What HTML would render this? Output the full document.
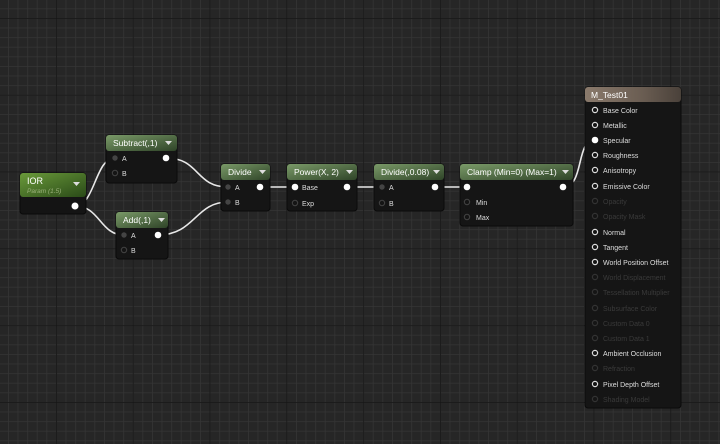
<!DOCTYPE html>
<html><head><meta charset="utf-8"><style>
html,body{margin:0;padding:0;background:#262626;}
svg{display:block;font-family:"Liberation Sans",sans-serif;}
</style></head><body>
<svg width="720" height="444" viewBox="0 0 720 444" xmlns="http://www.w3.org/2000/svg">
<defs>
<pattern id="minor" x="8" y="8.4" width="9.6" height="9.6" patternUnits="userSpaceOnUse">
<path d="M0 0H9.6M0 0V9.6" stroke="#353535" stroke-width="1.5" fill="none"/>
</pattern>
<pattern id="major" x="56" y="18" width="76.8" height="76.8" patternUnits="userSpaceOnUse">
<path d="M0 0H76.8M0 0V76.8" stroke="#151515" stroke-width="1.5" fill="none"/>
</pattern>
<linearGradient id="gh" x1="0" y1="0" x2="1" y2="1">
<stop offset="0" stop-color="#7a9a68"/><stop offset="1" stop-color="#2f4428"/></linearGradient>
<linearGradient id="gior" x1="0" y1="0" x2="1" y2="1">
<stop offset="0" stop-color="#6a9a3a"/><stop offset="1" stop-color="#2a4a18"/></linearGradient>
<linearGradient id="bh" x1="0" y1="0" x2="1" y2="0">
<stop offset="0" stop-color="#8a7a6c"/><stop offset="0.6" stop-color="#6a5d52"/><stop offset="1" stop-color="#4a413a"/></linearGradient>
</defs>
<rect width="720" height="444" fill="#262626"/>
<rect width="720" height="444" fill="url(#minor)"/>
<rect width="720" height="444" fill="url(#major)"/>

<g stroke="#e8e8e8" stroke-width="1.6" fill="none">
<path d="M75 206 C95 206 95 158 115 158"/>
<path d="M75 206 C100 206 100 235 124 235"/>
<path d="M166 158 C200 158 195 187 228 187"/>
<path d="M158 235 C195 235 195 202 228 202"/>
<path d="M260 187 H295"/>
<path d="M347 187 H382"/>
<path d="M435 187 H467"/>
<path d="M563 187 C585 187 575 140 595 140"/>
</g>

<g font-size="8" fill="#ddd">
<rect x="20" y="173" width="66" height="41" rx="3" fill="#141414" stroke="#0a0a0a"/>
<rect x="20" y="173" width="66" height="24" rx="3" fill="url(#gior)"/>
<text x="27" y="184" font-size="9" fill="#fff">IOR</text>
<text x="27" y="193" font-size="6.5" fill="#9ab07a" font-style="italic">Param (1.5)</text>
<path d="M73 182h7l-3.5 4z" fill="#ddd"/>
<circle cx="75" cy="206" r="3.5" fill="#fff"/>

<rect x="106" y="135" width="71" height="48" rx="3" fill="#151515" stroke="#0a0a0a"/>
<rect x="106" y="135" width="71" height="16" rx="3" fill="url(#gh)"/>
<text x="113" y="146" font-size="8.5" fill="#fff">Subtract(,1)</text>
<path d="M165 141h7l-3.5 4z" fill="#ddd"/>
<circle cx="115" cy="158" r="2.7" fill="#444"/><text x="122" y="161" font-size="7">A</text>
<circle cx="115" cy="173" r="2.7" fill="none" stroke="#444"/><text x="122" y="176" font-size="7">B</text>
<circle cx="166" cy="158" r="3.3" fill="#fff"/>

<rect x="116" y="212" width="52" height="47" rx="3" fill="#151515" stroke="#0a0a0a"/>
<rect x="116" y="212" width="52" height="16" rx="3" fill="url(#gh)"/>
<text x="123" y="223" font-size="8.5" fill="#fff">Add(,1)</text>
<path d="M158 218h7l-3.5 4z" fill="#ddd"/>
<circle cx="124" cy="235" r="2.7" fill="#444"/><text x="131" y="238" font-size="7">A</text>
<circle cx="124" cy="250" r="2.7" fill="none" stroke="#444"/><text x="131" y="253" font-size="7">B</text>
<circle cx="158" cy="235" r="3.3" fill="#fff"/>

<rect x="221" y="164" width="49" height="47" rx="3" fill="#151515" stroke="#0a0a0a"/>
<rect x="221" y="164" width="49" height="16" rx="3" fill="url(#gh)"/>
<text x="228" y="175" font-size="8.5" fill="#fff">Divide</text>
<path d="M259 170h7l-3.5 4z" fill="#ddd"/>
<circle cx="228" cy="187" r="2.7" fill="#444"/><text x="235" y="190" font-size="7">A</text>
<circle cx="228" cy="202" r="2.7" fill="#444"/><text x="235" y="205" font-size="7">B</text>
<circle cx="260" cy="187" r="3.3" fill="#fff"/>

<rect x="287" y="164" width="70" height="47" rx="3" fill="#151515" stroke="#0a0a0a"/>
<rect x="287" y="164" width="70" height="16" rx="3" fill="url(#gh)"/>
<text x="294" y="175" font-size="8.5" fill="#fff">Power(X, 2)</text>
<path d="M346 170h7l-3.5 4z" fill="#ddd"/>
<circle cx="295" cy="187" r="3.3" fill="#fff"/><text x="302" y="190" font-size="7">Base</text>
<circle cx="295" cy="203" r="2.7" fill="none" stroke="#444"/><text x="302" y="206" font-size="7">Exp</text>
<circle cx="347" cy="187" r="3.3" fill="#fff"/>

<rect x="374" y="164" width="70" height="47" rx="3" fill="#151515" stroke="#0a0a0a"/>
<rect x="374" y="164" width="70" height="16" rx="3" fill="url(#gh)"/>
<text x="381" y="175" font-size="8.5" fill="#fff">Divide(,0.08)</text>
<path d="M433 170h7l-3.5 4z" fill="#ddd"/>
<circle cx="382" cy="187" r="2.7" fill="#444"/><text x="389" y="190" font-size="7">A</text>
<circle cx="382" cy="203" r="2.7" fill="none" stroke="#444"/><text x="389" y="206" font-size="7">B</text>
<circle cx="435" cy="187" r="3.3" fill="#fff"/>

<rect x="460" y="164" width="113" height="62" rx="3" fill="#151515" stroke="#0a0a0a"/>
<rect x="460" y="164" width="113" height="16" rx="3" fill="url(#gh)"/>
<text x="467" y="175" font-size="8.5" fill="#fff">Clamp (Min=0) (Max=1)</text>
<path d="M562 170h7l-3.5 4z" fill="#ddd"/>
<circle cx="467" cy="187" r="3.3" fill="#fff"/>
<circle cx="467" cy="202" r="2.7" fill="none" stroke="#444"/><text x="476" y="205" font-size="7">Min</text>
<circle cx="467" cy="217" r="2.7" fill="none" stroke="#444"/><text x="476" y="220" font-size="7">Max</text>
<circle cx="563" cy="187" r="3.3" fill="#fff"/>

<rect x="585" y="87" width="96" height="321" rx="3" fill="#151515" stroke="#0a0a0a"/>
<rect x="585" y="87" width="96" height="15" rx="3" fill="url(#bh)"/>
<text x="591" y="98" font-size="8.5" fill="#fff">M_Test01</text>
<g font-size="7">
<g fill="none" stroke="#ddd" stroke-width="1.2">
<circle cx="595" cy="110" r="2.6"/><circle cx="595" cy="125" r="2.6"/><circle cx="595" cy="155" r="2.6"/><circle cx="595" cy="170" r="2.6"/><circle cx="595" cy="186" r="2.6"/><circle cx="595" cy="232" r="2.6"/><circle cx="595" cy="247" r="2.6"/><circle cx="595" cy="262" r="2.6"/><circle cx="595" cy="353" r="2.6"/><circle cx="595" cy="384" r="2.6"/>
</g>
<g fill="none" stroke="#333" stroke-width="1.2">
<circle cx="595" cy="201" r="2.6"/><circle cx="595" cy="216" r="2.6"/><circle cx="595" cy="277" r="2.6"/><circle cx="595" cy="292" r="2.6"/><circle cx="595" cy="308" r="2.6"/><circle cx="595" cy="323" r="2.6"/><circle cx="595" cy="338" r="2.6"/><circle cx="595" cy="368" r="2.6"/><circle cx="595" cy="399" r="2.6"/>
</g>
<circle cx="595" cy="140" r="3.3" fill="#fff"/>
<g fill="#ddd">
<text x="603" y="113">Base Color</text><text x="603" y="128">Metallic</text><text x="603" y="143">Specular</text><text x="603" y="158">Roughness</text><text x="603" y="173">Anisotropy</text><text x="603" y="189">Emissive Color</text><text x="603" y="235">Normal</text><text x="603" y="250">Tangent</text><text x="603" y="265">World Position Offset</text><text x="603" y="356">Ambient Occlusion</text><text x="603" y="387">Pixel Depth Offset</text>
</g>
<g fill="#3a3a3a">
<text x="603" y="204">Opacity</text><text x="603" y="219">Opacity Mask</text><text x="603" y="280">World Displacement</text><text x="603" y="295">Tessellation Multiplier</text><text x="603" y="311">Subsurface Color</text><text x="603" y="326">Custom Data 0</text><text x="603" y="341">Custom Data 1</text><text x="603" y="371">Refraction</text><text x="603" y="402">Shading Model</text>
</g>
</g>
</g>
</svg>
</body></html>
